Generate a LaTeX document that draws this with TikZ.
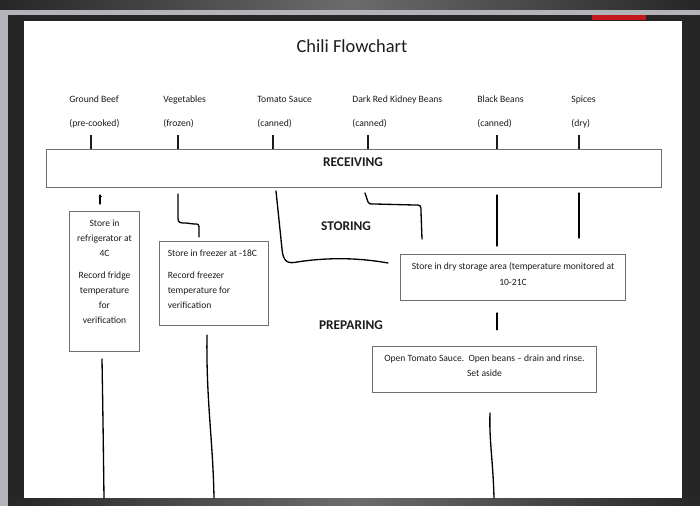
\documentclass[tikz,border=0pt]{standalone}
\usepackage{fontspec}
\setmainfont{Carlito}
\usetikzlibrary{positioning,calc}
\definecolor{frame}{HTML}{262626}
\definecolor{frameglow}{HTML}{6C6C6C}
\definecolor{strip}{HTML}{B2B4BA}
\definecolor{redtab}{HTML}{C3171C}
\definecolor{edge}{HTML}{6F6F6F}
\definecolor{ink}{HTML}{1C1C1C}

\begin{document}
\begin{tikzpicture}[
  x=0.02cm, y=-0.02cm,
  font=\fontsize{5.45}{8.5}\selectfont, text=ink,
  box/.style={draw=edge, line width=0.6pt, inner sep=0pt},
  txt/.style={inner sep=0pt},
  ingr/.style={inner sep=0pt, anchor=base west, font=\fontsize{5.5}{7}\selectfont},
  head/.style={font=\fontsize{7.6}{9}\selectfont\bfseries, inner sep=0pt},
  tick/.style={ink, line width=0.6pt},
  hand/.style={black, line width=0.75pt, line cap=round, line join=round}
]

% slide frame
\fill[frame] (0,0) rectangle (700,506);
\shade[left color=frame, right color=frame, middle color=frameglow] (0,0) rectangle (700,10);
\fill[strip] (0,10) rectangle (700,15);
\fill[strip] (0,10) rectangle (8,506);
\fill[redtab] (592,15) rectangle (646,20);
\shade[left color=frame, right color=frame, middle color=frameglow] (8,498) rectangle (700,506);
\fill[white] (24,21) rectangle (682,498);

\node[font=\fontsize{10.5}{12}\selectfont] (title) at (352,46) {Chili Flowchart};

% ingredients
\node[ingr] (gb)  at (69,103)  {Ground Beef};
\node[ingr] (veg) at (163,103) {Vegetables};
\node[ingr] (ts)  at (257,103) {Tomato Sauce};
\node[ingr] (kb)  at (352,103) {Dark Red Kidney Beans};
\node[ingr] (bb)  at (477,103) {Black Beans};
\node[ingr] (sp)  at (571,103) {Spices};

\node[ingr] (gbt)  at (69,127)  {(pre-cooked)};
\node[ingr] (vegt) at (163,127) {(frozen)};
\node[ingr] (tst)  at (257,127) {(canned)};
\node[ingr] (kbt)  at (352,127) {(canned)};
\node[ingr] (bbt)  at (477,127) {(canned)};
\node[ingr] (spt)  at (571,127) {(dry)};

% receiving
\node[box, anchor=north west, minimum width=12.3cm, minimum height=0.76cm] (recv) at (46,149) {};
\node[head] (recvt) at (353,162) {RECEIVING};

\foreach \n/\xx in {gbt/91, vegt/178, tst/273, kbt/368, bbt/497, spt/579}
  \draw[tick] (\xx,135) -- (\xx,135 |- recv.north);

% storing
\node[head] (stor) at (346,226) {STORING};

\node[box, anchor=north west, minimum width=1.4cm, minimum height=2.8cm] (fridge) at (69,211) {};
\node[txt, anchor=north, align=center] (fridget) at ([yshift=-1.7mm]fridge.north)
  {Store in\\refrigerator at\\4C\\[4.3pt]Record fridge\\temperature\\for\\verification};

\node[box, anchor=north west, minimum width=2.18cm, minimum height=1.68cm] (freezer) at (159,241) {};
\node[txt, anchor=north west, align=left] (freezert) at ([xshift=1.7mm, yshift=-1.7mm]freezer.north west)
  {Store in freezer at -18C\\[4.3pt]Record freezer\\temperature for\\verification};

\node[box, anchor=north west, minimum width=4.5cm, minimum height=0.92cm] (dry) at (400,254) {};
\node[txt, anchor=north, align=center, font=\fontsize{5.45}{9}\selectfont] (dryt) at ([yshift=-1.7mm]dry.north)
  {Store in dry storage area (temperature monitored at\\10-21C};

% preparing
\node[head] (prep) at (351,325) {PREPARING};

\node[box, anchor=north west, minimum width=4.48cm, minimum height=0.92cm] (open) at (372,346) {};
\node[txt, anchor=north, align=center] (opent) at ([yshift=-1.7mm]open.north)
  {Open Tomato Sauce.\ \ Open beans -- drain and rinse.\\Set aside};

% hand drawn links
\coordinate (gbA) at (100,195);
\coordinate (gbB) at (100,204);
\draw[hand] (gbA) -- (gbB);
\draw[hand, line width=0.5pt] (99,197) -- (101.5,196.5);

\coordinate (vegA) at (178,194);
\coordinate (vegB) at (199,237);
\draw[hand] (vegA) -- (178,218) .. controls (178,223) and (180,223) .. (186,223)
  -- (194,224) .. controls (199,224) .. (199,230) -- (vegB);

\coordinate (tsA) at (276,191);
\coordinate (tsB) at (388,263);
\draw[hand] (tsA) .. controls (278,220) .. (282,249) .. controls (283,262) and (288,264) .. (297,262)
  .. controls (330,257) and (360,258) .. (tsB);

\coordinate (kbA) at (365,193);
\coordinate (kbB) at (422,239);
\draw[hand] (kbA) -- (368,202) .. controls (369,204) .. (375,204) -- (414,205)
  .. controls (421,205) .. (421,212) -- (kbB);

\coordinate (bbA) at (497,195);
\coordinate (bbB) at (497,246);
\draw[hand] (bbA) -- (bbB);

\coordinate (spA) at (579,193);
\coordinate (spB) at (579,238);
\draw[hand] (spA) -- (spB);

\coordinate (dryA) at (497,313);
\draw[hand] (dryA) -- (dryA |- prep.south);

\coordinate (fridgeA) at (102,359);
\coordinate (fridgeB) at (104,498);
\draw[hand] (fridgeA) .. controls (103,420) .. (fridgeB);

\coordinate (freezerA) at (207,335);
\coordinate (freezerB) at (214,498);
\draw[hand] (freezerA) .. controls (206,400) and (213,440) .. (freezerB);

\coordinate (openA) at (490,413);
\coordinate (openB) at (494,498);
\draw[hand] (openA) .. controls (489,440) and (493,460) .. (openB);

\end{tikzpicture}
\end{document}
